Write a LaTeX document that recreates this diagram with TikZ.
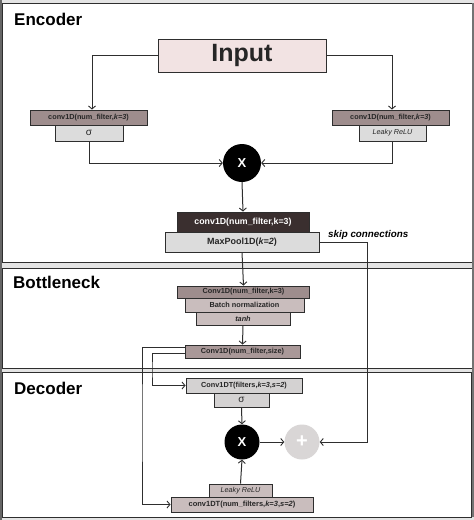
\documentclass[tikz,border=0pt]{standalone}
\usepackage{fontspec}
\setmainfont{Liberation Sans}
\usetikzlibrary{arrows.meta}
\definecolor{bgg}{HTML}{E4E4E4}
\definecolor{edge}{HTML}{2E2E2E}
\definecolor{mauve}{HTML}{9E8D8D}
\definecolor{mauvelt}{HTML}{C9BDBD}
\definecolor{mauvemd}{HTML}{A99898}
\definecolor{lgray}{HTML}{DCDCDC}
\definecolor{lgray2}{HTML}{D4D2D2}
\definecolor{darkbox}{HTML}{3A2F2F}
\definecolor{inputc}{HTML}{F2E3E3}
\definecolor{plusc}{HTML}{D9D6D6}
\tikzset{
  panel/.style={fill=white,draw=edge,line width=1pt},
  box/.style={draw=edge,line width=0.9pt,inner sep=0pt,font=\bfseries\fontsize{7.3}{8}\selectfont,text=black!85},
  ttl/.style={anchor=base west,inner sep=0pt,font=\bfseries\fontsize{17}{18}\selectfont},
  conn/.style={draw=edge,line width=1pt},
  arr/.style={conn,-{Straight Barb[length=3pt,width=7pt,line width=0.9pt]}},
  mulc/.style={circle,fill=black,inner sep=0pt,text=white,font=\bfseries\fontsize{13}{14}\selectfont},
}
\begin{document}
\begin{tikzpicture}[x=1pt,y=-1pt]
\fill[bgg] (0,0) rectangle (474,520);
\useasboundingbox (0,0) rectangle (474,520);
% panels
\draw[panel] (2,3) rectangle (472,262);
\draw[panel] (2,268) rectangle (472,368);
\draw[panel] (2,372) rectangle (471,517);
\fill[black!60] (0,0) rectangle (2,520);
\fill[black!55] (471.5,3) rectangle (473.5,517);
% titles
\node[ttl] (tenc) at (14,25) {Encoder};
\node[ttl] (tbot) at (13,288) {Bottleneck};
\node[ttl] (tdec) at (14,394) {Decoder};
% encoder
\node[box,fill=inputc,minimum width=168pt,minimum height=33pt,font=\bfseries\fontsize{25}{26}\selectfont] (input) at (242,55.5) {Input};
\node[box,fill=mauve,minimum width=117pt,minimum height=15pt] (lconv) at (88.5,117.5) {conv1D(num\_filter,\textit{k=3})};
\node[box,fill=lgray,minimum width=68pt,minimum height=16pt,font=\fontsize{10}{10}\selectfont] (lsig) at (89,133) {σ};
\node[box,fill=mauve,minimum width=117pt,minimum height=15pt] (rconv) at (390.5,117.5) {conv1D(num\_filter,\textit{k=3})};
\node[box,fill=lgray,minimum width=67pt,minimum height=16pt,font=\itshape\fontsize{7.2}{8}\selectfont] (rrelu) at (392.5,133) {Leaky ReLU};
\node[mulc,minimum size=38pt] (x1) at (242,163) {X};
\node[box,fill=darkbox,text=white,minimum width=132pt,minimum height=20pt,font=\bfseries\fontsize{8.8}{9}\selectfont] (econv) at (243,222) {conv1D(num\_filter,k=3)};
\node[box,fill=lgray,minimum width=154pt,minimum height=20pt,font=\bfseries\fontsize{9}{10}\selectfont] (pool) at (242,242) {MaxPool1D(\textit{k=2})};
\node[anchor=west,inner sep=0pt,font=\bfseries\itshape\fontsize{9.8}{10}\selectfont] (skip) at (328,235) {skip connections};
\coordinate (s1) at (367,242);
% bottleneck
\node[box,fill=mauve,minimum width=132pt,minimum height=12pt] (bconv) at (243.5,292) {Conv1D(num\_filter,k=3)};
\node[box,fill=mauvelt,minimum width=119pt,minimum height=14pt] (bn) at (244.5,305) {Batch normalization};
\node[box,fill=mauvelt,minimum width=94pt,minimum height=13pt,font=\bfseries\itshape\fontsize{7.3}{8}\selectfont] (tanh) at (243,318.5) {tanh};
\node[box,fill=mauvemd,minimum width=115pt,minimum height=13pt] (bsize) at (242.5,351.5) {Conv1D(num\_filter,size)};
\coordinate (o1) at (142,420);
\coordinate (i1) at (152,370);
% decoder
\node[box,fill=lgray2,minimum width=116pt,minimum height=15pt] (dconvt) at (244,385.5) {Conv1DT(filters,\textit{k=3},\textit{s=2})};
\node[box,fill=lgray2,minimum width=55pt,minimum height=14pt,font=\fontsize{10}{10}\selectfont] (dsig) at (241.5,400) {σ};
\node[mulc,minimum size=35pt] (x2) at (242,442) {X};
\node[circle,fill=plusc,inner sep=0pt,minimum size=35pt,text=white,font=\bfseries\fontsize{20}{20}\selectfont] (plus) at (302,442) {+};
\node[box,fill=mauvelt,minimum width=63pt,minimum height=13pt,font=\itshape\fontsize{7.2}{8}\selectfont] (relu2) at (240.5,490.5) {Leaky ReLU};
\node[box,fill=mauvelt,minimum width=142pt,minimum height=15pt,font=\bfseries\fontsize{7.5}{8}\selectfont] (dconvt2) at (242,504.5) {conv1DT(num\_filters,\textit{k=3},\textit{s=2})};
% connectors
\draw[arr] (input.west) -| ([xshift=3.5pt]lconv.north);
\draw[arr] (input.east) -| ([xshift=1.5pt]rconv.north);
\draw[arr] (lsig.south) |- (x1.west);
\draw[arr] (rrelu.south) |- (x1.east);
\draw[arr] (x1.south) -- (econv.north);
\draw[arr] (pool.south) -- (bconv.north);
\draw[arr] (tanh.south) -- (bsize.north);
\draw[arr] (pool.east) -- (s1) |- (plus.east);
\draw[arr] ([yshift=4.5pt]bsize.west) -| (o1) |- (dconvt2.west);
\draw[arr] ([yshift=-1.5pt]bsize.west) -| (i1) |- (dconvt.west);
\draw[arr] (dsig.south) -- (x2.north);
\draw[arr] (x2.east) -- (plus.west);
\draw[arr] (relu2.north) -- (x2.south);
\end{tikzpicture}
\end{document}
